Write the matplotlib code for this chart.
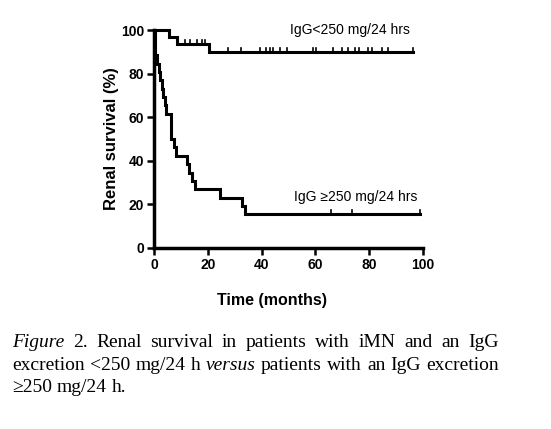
import matplotlib
matplotlib.use("Agg")
import matplotlib.pyplot as plt

# Kaplan-Meier curves
low_times = [5.6, 8.5, 20.4]
low_surv = [100, 96.8, 93.6, 89.8]
low_censor = [11.5, 13.4, 15.9, 17.7, 19.0, 27.6, 32.2, 39.4, 41.8, 43.1, 44.1,
              46.8, 49.3, 59.0, 60.2, 66.6, 70.0, 72.2, 74.7, 76.3, 79.7, 80.9,
              84.6, 87.1, 96.3]

high_times = [0.3, 1.0, 1.7, 2.3, 2.9, 3.4, 4.0, 4.5, 6.2, 7.4, 8.2, 12.1,
              13.1, 14.0, 15.2, 24.5, 32.6, 33.8]
high_surv = [100, 88.5, 84.6, 80.8, 76.9, 73.1, 69.2, 65.4, 61.5, 50.0, 46.2,
             42.3, 38.5, 34.6, 30.8, 26.9, 23.1, 19.2, 15.4]
high_censor = [65.7, 73.7, 98.9]

label_low = "IgG<250 mg/24 hrs"
label_high = "IgG \u2265250 mg/24 hrs"
ticks = [0, 20, 40, 60, 80, 100]

caption_lines = [
    [("Figure", "italic"), ("2.", "normal"), ("Renal", "normal"), ("survival", "normal"),
     ("in", "normal"), ("patients", "normal"), ("with", "normal"), ("iMN", "normal"),
     ("and", "normal"), ("an", "normal"), ("IgG", "normal")],
    [("excretion", "normal"), ("<250", "normal"), ("mg/24", "normal"), ("h", "normal"),
     ("versus", "italic"), ("patients", "normal"), ("with", "normal"), ("an", "normal"),
     ("IgG", "normal"), ("excretion", "normal")],
    [("\u2265250", "normal"), ("mg/24", "normal"), ("h.", "normal")],
]

plt.rcParams['font.family'] = ['Liberation Sans', 'DejaVu Sans']

fig = plt.figure(figsize=(5.51, 4.29), dpi=100)
ax = fig.add_axes([154 / 551, 1 - 248 / 429, 269 / 551, 218 / 429])


def km_step(ax, times, surv, censor):
    end = censor[-1] if censor else times[-1]
    xs = [0] + list(times) + [end]
    ys = list(surv) + [surv[-1]]
    ax.step(xs, ys, where='post', color='black', lw=2.2, clip_on=False,
            solid_joinstyle='miter')
    # censor ticks sit on top of the line
    for c in censor:
        level = surv[0]
        for t, s in zip(times, surv[1:]):
            if c >= t:
                level = s
        ax.plot([c, c], [level, level + 2.0], color='black', lw=1.2, clip_on=False)


km_step(ax, low_times, low_surv, low_censor)
km_step(ax, high_times, high_surv, high_censor)

ax.set_xlim(0, 100)
ax.set_ylim(0, 100)
ax.set_xticks(ticks)
ax.set_yticks(ticks)
for side in ['top', 'right']:
    ax.spines[side].set_visible(False)
for side in ['left', 'bottom']:
    ax.spines[side].set_linewidth(2.5)
ax.tick_params(width=1.8, length=5, pad=2, labelsize=10)
for lab in ax.get_xticklabels() + ax.get_yticklabels():
    lab.set_fontweight('bold')

ax.text(95, 100, label_low, ha='right', va='center', fontsize=10)
ax.text(98, 23.5, label_high, ha='right', va='center', fontsize=10)

ax.set_xlabel("Time (months)", fontsize=11.5, fontweight='bold')
ax.set_ylabel("Renal survival (%)", fontsize=12, fontweight='bold')
ax.xaxis.set_label_coords(0.44, -0.205)
ax.yaxis.set_label_coords(-0.13, 0.5)

# caption, justified like the source document
renderer = fig.canvas.get_renderer()
left_px, right_px = 12, 499
baselines = [347, 370, 392]
for i, (words, base) in enumerate(zip(caption_lines, baselines)):
    objs = [fig.text(0, 1 - base / 429, w, fontsize=14, style=st, va='baseline',
                     family=['Liberation Serif', 'DejaVu Serif'])
            for w, st in words]
    widths = [o.get_window_extent(renderer).width for o in objs]
    if i < 2:
        gap = (right_px - left_px - sum(widths)) / (len(objs) - 1)
    else:
        gap = 5
    x = left_px
    for o, w in zip(objs, widths):
        o.set_x(x / 551)
        x += w + gap

fig.savefig("out.png", dpi=100)
